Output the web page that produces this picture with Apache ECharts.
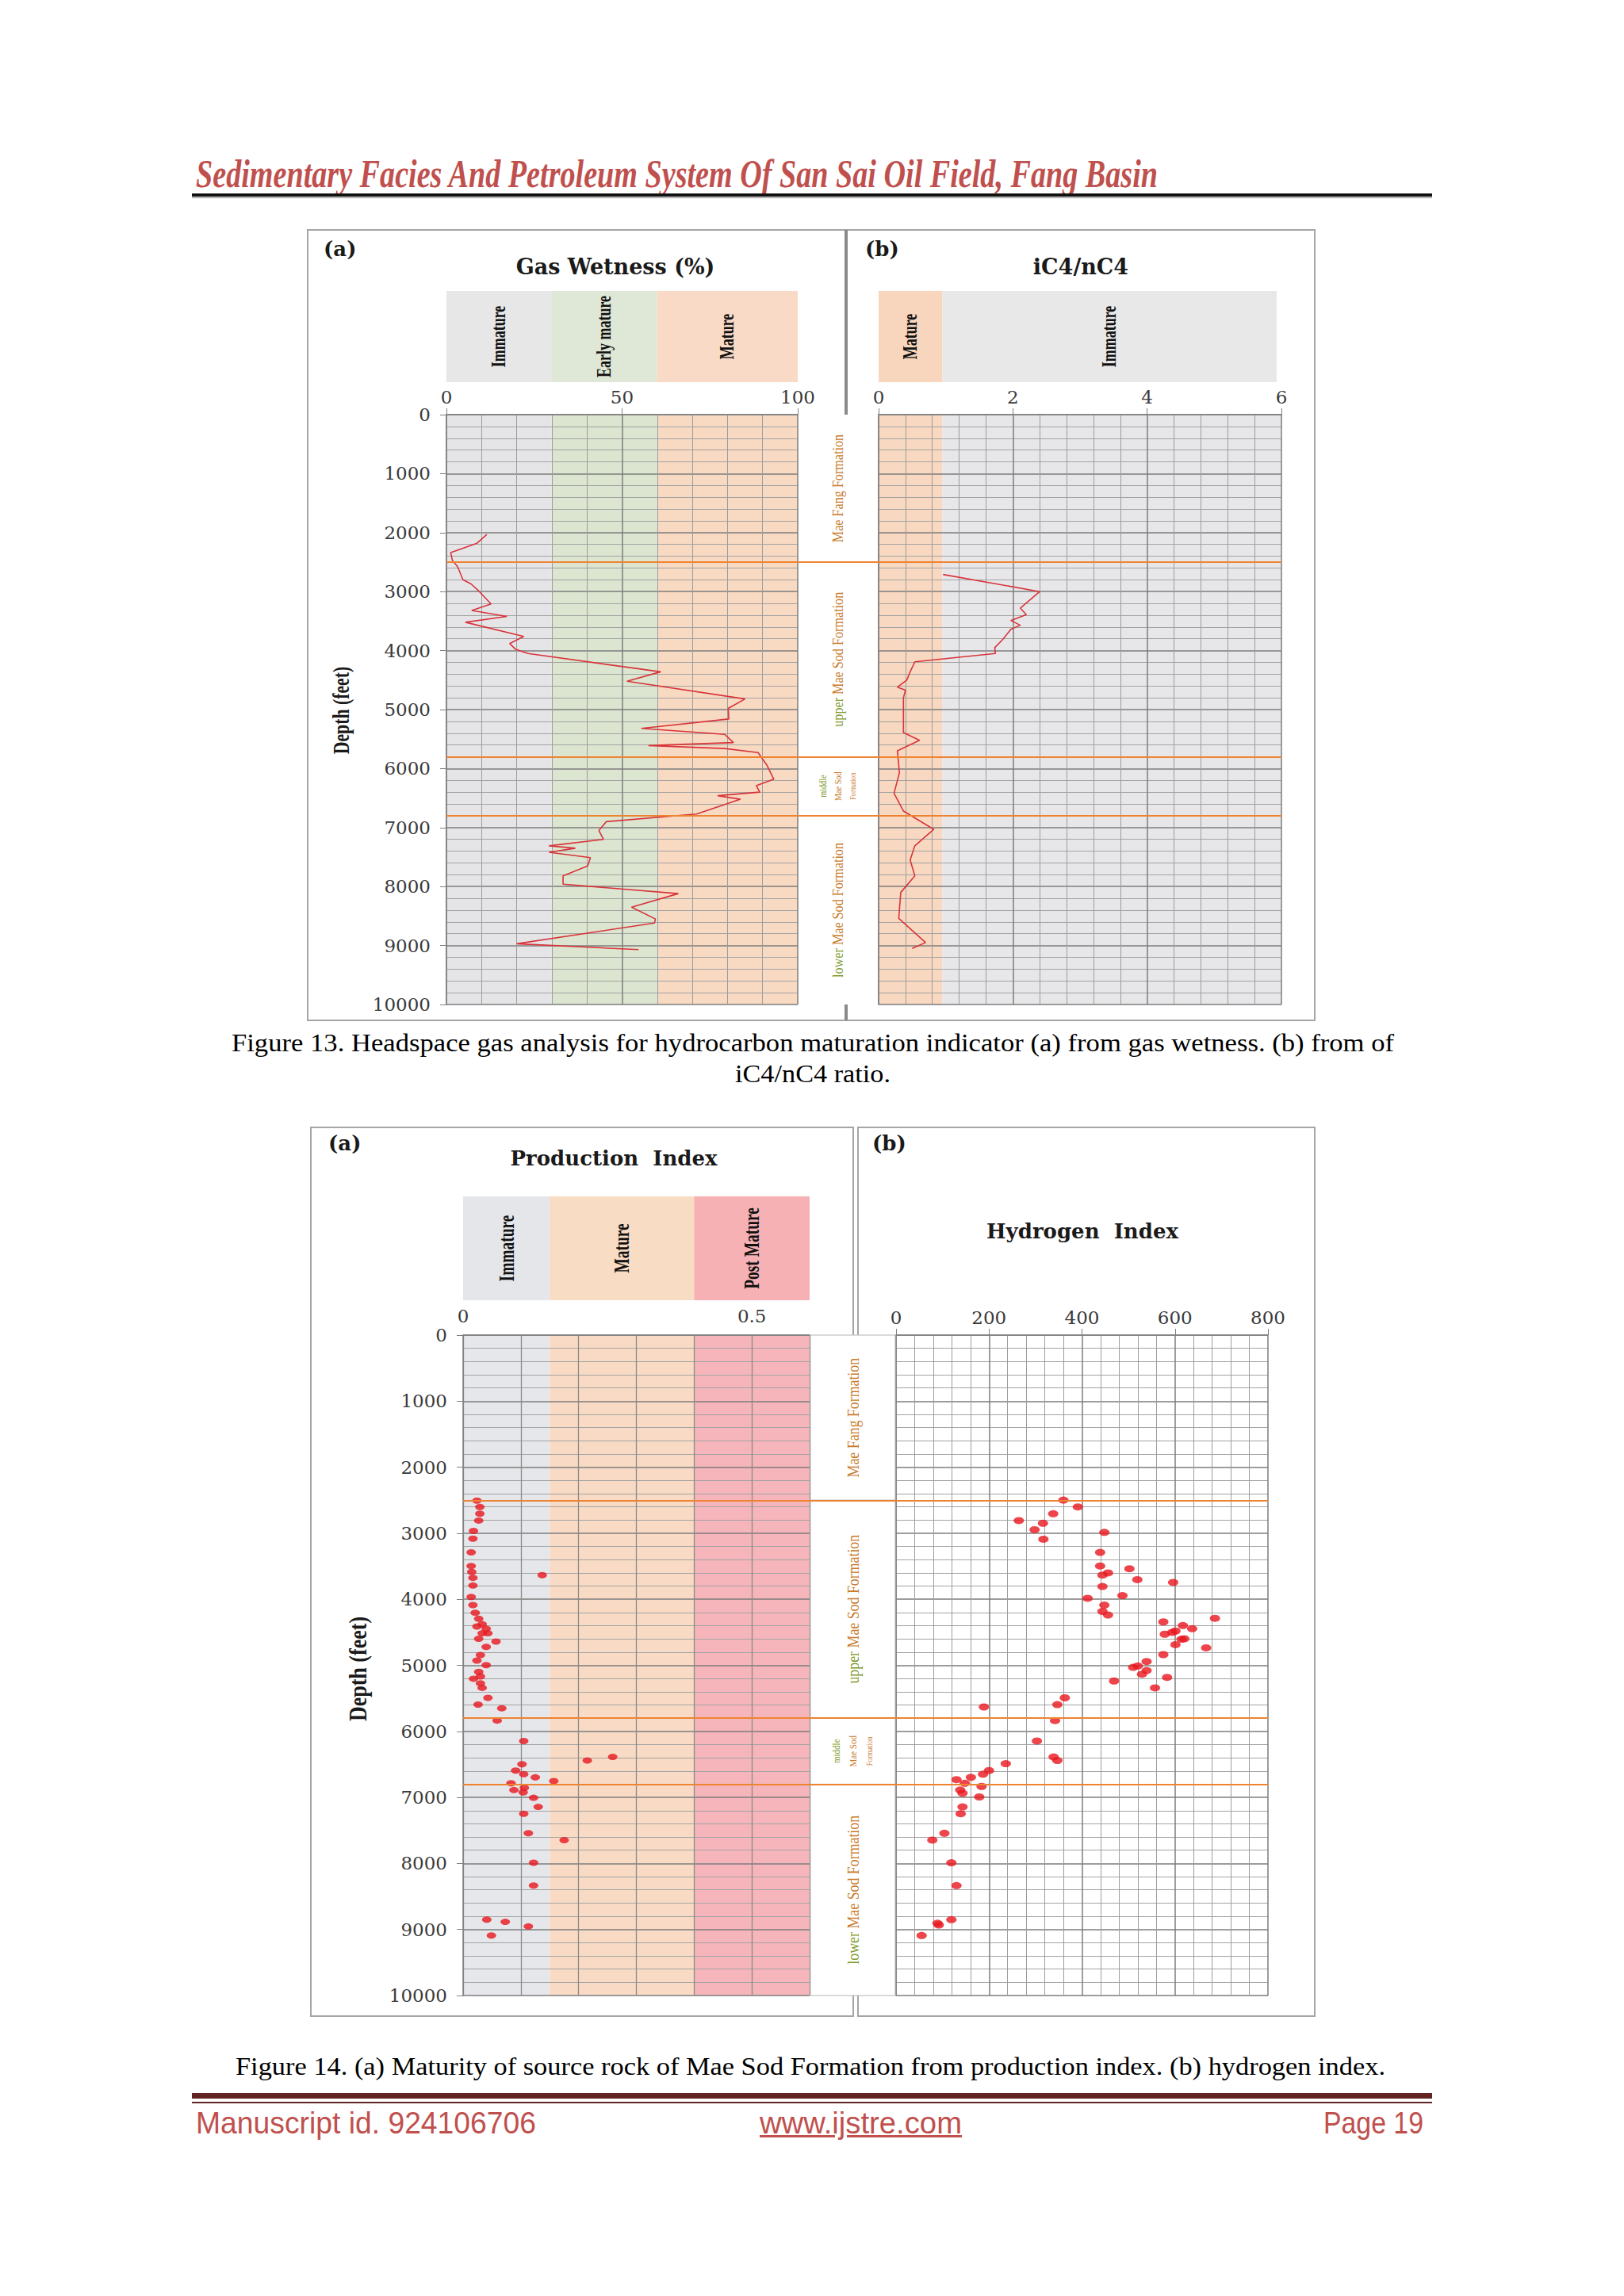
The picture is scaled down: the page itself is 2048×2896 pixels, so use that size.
<!DOCTYPE html>
<html><head><meta charset="utf-8">
<script src="https://cdn.jsdelivr.net/npm/echarts/dist/echarts.min.js"></script>
<style>
html,body{margin:0;padding:0;background:#fff;}
#page{position:relative;width:2048px;height:2896px;overflow:hidden;background:#fff;}
#chart{position:absolute;left:0;top:0;width:2048px;height:2896px;}
.t{position:absolute;white-space:nowrap;line-height:1;transform-origin:0 50%;}
.rule{position:absolute;}
</style></head><body>
<div id="page"><div id="chart"></div></div>
<script>
// ---------------- DATA ----------------
const formationNames = ['Mae Fang Formation','upper Mae Sod Formation','middle Mae Sod Formation','lower Mae Sod Formation'];
const formationTop  = [0, 2500, 5800, 6800];
const formationBase = [2500, 5800, 6800, 10000];
const boundaryDepths = [2500, 5800, 6800];

const gwZoneNames = ['Immature','Early mature','Mature'];
const gwZoneFrom = [0, 30, 60];
const gwZoneTo   = [30, 60, 100];
const icZoneNames = ['Mature','Immature'];
const icZoneFrom = [0, 0.95];
const icZoneTo   = [0.95, 6];
const icHeaderTo = [0.95, 5.93];
const piZoneNames = ['Immature','Mature','Post Mature'];
const piZoneFrom = [0, 0.15, 0.4];
const piZoneTo   = [0.15, 0.4, 0.6];

const gwDepth = [2030,2180,2340,2470,2580,2800,2870,2990,3210,3320,3420,3520,3760,3880,3980,4050,4360,4520,4820,4980,5160,5320,5420,5560,5610,5660,5730,5940,6180,6290,6400,6460,6520,6770,6900,7050,7200,7310,7350,7420,7510,7650,7820,7960,8120,8350,8550,8620,8970,9070];
const gwValue = [11.5,8.7,1.2,1.7,3.2,4.7,7.0,9.2,12.7,7.2,17.2,5.4,22.0,18.0,19.7,23.2,61.0,51.4,85.0,80.2,80.4,55.5,79.2,81.7,57.5,79.2,88.7,91.2,93.2,88.2,89.2,77.2,83.7,71.2,45.5,43.4,44.7,29.2,36.7,29.2,41.0,40.2,33.2,33.2,66.0,52.7,59.5,59.2,20.0,54.7];

const icDepth = [2710,3000,3280,3390,3490,3570,3640,3810,3950,4050,4190,4360,4500,4620,4670,4800,5390,5520,5700,6070,6420,6720,7030,7310,7550,7820,8100,8540,8950,9050];
const icValue = [0.96,2.40,2.11,2.20,1.97,2.11,1.97,1.85,1.73,1.74,0.54,0.47,0.42,0.28,0.40,0.37,0.37,0.61,0.28,0.31,0.23,0.37,0.82,0.54,0.47,0.54,0.33,0.30,0.70,0.50];

const piDepth = [2505,2601,2705,2808,2966,3083,3290,3634,3496,3586,3675,3792,3964,4088,4205,4294,4377,4411,4446,4515,4515,4597,4639,4721,4845,4928,4997,5100,5169,5203,5272,5341,5492,5595,5650,5836,6146,6387,6442,6497,6593,6648,6697,6752,6786,6855,6889,6924,7006,7144,7247,7543,7646,7990,8335,8851,8885,8954,9091];
const piValue = [0.024,0.029,0.029,0.027,0.018,0.017,0.014,0.137,0.014,0.015,0.017,0.017,0.014,0.017,0.021,0.027,0.033,0.024,0.040,0.033,0.043,0.027,0.057,0.040,0.030,0.024,0.040,0.027,0.030,0.018,0.030,0.033,0.043,0.026,0.067,0.059,0.105,0.259,0.215,0.102,0.091,0.105,0.125,0.157,0.083,0.106,0.088,0.104,0.122,0.130,0.105,0.113,0.175,0.122,0.122,0.041,0.073,0.113,0.049];

const hiDepth = [2498,2601,2705,2808,2849,2946,3090,2987,3290,3496,3600,3634,3537,3703,3806,3744,3985,3944,4088,4184,4239,4288,4343,4398,4446,4529,4501,4481,4605,4598,4687,4735,4838,4942,5031,5010,5079,5134,5182,5237,5341,5492,5595,5630,5836,6146,6387,6442,6490,6593,6648,6697,6731,6786,6834,6889,6937,6993,7144,7247,7543,7646,7990,8335,8851,8906,8933,9091];
const hiValue = [360,391,338,264,316,298,317,448,439,439,456,444,502,519,444,596,412,487,448,444,456,686,575,617,637,578,594,601,614,620,601,667,575,539,510,520,539,529,583,469,557,363,347,189,342,303,339,347,236,200,187,161,130,148,184,138,143,179,143,139,104,78,119,130,119,89,92,55];

// ---------------- STYLE ----------------
const gwPlotColors = ['#e5e5e8','#dce5d0','#f8d9c2'];
const gwHeadColors = ['#e7e7e7','#dfe8d6','#f9dac6'];
const icPlotColors = ['#f8d8c0','#e7e7ea'];
const icHeadColors = ['#f7d6bd','#e8e8e8'];
const piPlotColors = ['#e6e7ea','#f9dbc5','#f6b5ba'];
const piHeadColors = ['#e4e6e9','#f8dcc3','#f6b1b5'];
const ORANGE = '#ee8432', FORM = '#c87b2c', GREEN = '#7f9a2e';
const SERIF = '"Liberation Serif", "Times New Roman", serif';
const WIDE = '"DejaVu Serif", serif';

function zip(a, b) { return a.map((v, i) => [v, b[i]]); }

function bandRender(colors) {
  return function (params, api) {
    const a = api.coord([api.value(0), 0]);
    const b = api.coord([api.value(1), 10000]);
    return { type: 'rect', shape: { x: a[0], y: a[1], width: b[0] - a[0], height: b[1] - a[1] },
      style: { fill: colors[params.dataIndex] } };
  };
}
function headRender(colors, names, fs) {
  return function (params, api) {
    const a = api.coord([api.value(0), 1]);
    const b = api.coord([api.value(1), 0]);
    return { type: 'group', children: [
      { type: 'rect', shape: { x: a[0], y: a[1], width: b[0] - a[0], height: b[1] - a[1] }, style: { fill: colors[params.dataIndex] } },
      { type: 'text', x: (a[0] + b[0]) / 2, y: (a[1] + b[1]) / 2, rotation: Math.PI / 2, scaleX: 0.72,
        style: { text: names[params.dataIndex], fill: '#111', font: 'bold ' + fs + 'px ' + SERIF,
          align: 'center', textAlign: 'center', verticalAlign: 'middle', textVerticalAlign: 'middle' } }
    ] };
  };
}
function formRender(fs, small, stroke) {
  return function (params, api) {
    const i = params.dataIndex;
    const a = api.coord([0, api.value(0)]);
    const b = api.coord([1, api.value(1)]);
    const words = formationNames[i].split(' ');
    let text, size = fs;
    if (i === 0) text = formationNames[i];
    else if (i === 2) { text = '{g|' + words[0] + '}\n{o|' + words[1] + ' ' + words[2] + '}\n{s|' + words[3] + '}'; size = small; }
    else text = '{g|' + words[0] + '}{o| ' + words.slice(1).join(' ') + '}';
    return { type: 'group', children: [
      { type: 'rect', shape: { x: a[0], y: a[1], width: b[0] - a[0], height: b[1] - a[1] },
        style: { fill: '#ffffff', stroke: stroke, lineWidth: stroke === 'none' ? 0 : 1 } },
      { type: 'text', x: (a[0] + b[0]) / 2, y: (a[1] + b[1]) / 2, rotation: Math.PI / 2, scaleX: 0.85,
        style: { text: text, fill: FORM, fontSize: size, fontFamily: SERIF,
          align: 'center', textAlign: 'center', verticalAlign: 'middle', textVerticalAlign: 'middle',
          lineHeight: size * 1.6,
          rich: { g: { fill: GREEN, fontSize: size, fontFamily: SERIF, lineHeight: size * 1.6 },
                  o: { fill: FORM, fontSize: size, fontFamily: SERIF, lineHeight: size * 1.6 },
                  s: { fill: FORM, fontSize: size * 0.8, fontFamily: SERIF, lineHeight: size * 1.6 } } } }
    ] };
  };
}

// ---------------- AXES ----------------
const plain = v => String(v);
function hidX(gi, min, max) { return { gridIndex: gi, type: 'value', min: min, max: max, show: false }; }
function hidY(gi, min, max, inv) { return { gridIndex: gi, type: 'value', min: min, max: max, inverse: !!inv, show: false }; }
function plotX(gi, min, max, interval, extra) {
  return Object.assign({
    gridIndex: gi, type: 'value', min: min, max: max, interval: interval, position: 'top', z: 1,
    axisLine: { show: true, onZero: false, lineStyle: { color: '#808080', width: 1.5 } },
    axisTick: { show: true, length: 8, lineStyle: { color: '#808080' } },
    axisLabel: { show: true, margin: 11, fontFamily: WIDE, fontSize: 23, color: '#3a3a3a', formatter: plain },
    splitLine: { show: true, lineStyle: { color: '#7d7d7d', width: 1.5 } },
    minorTick: { show: false, splitNumber: 5 },
    minorSplitLine: { show: true, lineStyle: { color: '#9c9c9c', width: 1 } }
  }, extra || {});
}
function plotY(gi, labels) {
  return {
    gridIndex: gi, type: 'value', inverse: true, min: 0, max: 10000, interval: 1000, z: 1,
    axisLine: { show: true, onZero: false, lineStyle: { color: '#808080', width: 1.5 } },
    axisTick: { show: labels, length: 8, lineStyle: { color: '#808080' } },
    axisLabel: { show: labels, margin: 20, fontFamily: WIDE, fontSize: 23, color: '#3a3a3a', formatter: plain },
    splitLine: { show: true, lineStyle: { color: '#7d7d7d', width: 1.5 } },
    minorTick: { show: false, splitNumber: 5 },
    minorSplitLine: { show: true, lineStyle: { color: '#a3a3a3', width: 1 } }
  };
}

const grid = [
  { left: 563, top: 367, width: 443, height: 115 },   // 0 GW header
  { left: 563, top: 523, width: 443, height: 744 },   // 1 GW plot
  { left: 1108, top: 367, width: 508, height: 115 },  // 2 iC4 header
  { left: 1108, top: 523, width: 508, height: 744 },  // 3 iC4 plot
  { left: 1007, top: 523, width: 100, height: 744 },  // 4 formation col 13
  { left: 563, top: 523, width: 1053, height: 744 },  // 5 boundaries 13
  { left: 584, top: 1509, width: 437, height: 131 },  // 6 PI header
  { left: 584, top: 1684, width: 437, height: 833 },  // 7 PI plot
  { left: 1130, top: 1684, width: 469, height: 833 }, // 8 HI plot
  { left: 1022, top: 1684, width: 107, height: 833 }, // 9 formation col 14
  { left: 584, top: 1684, width: 1015, height: 833 }  // 10 boundaries 14
];

const xAxis = [
  hidX(0, 0, 100),
  plotX(1, 0, 100, 50),
  hidX(2, 0, 6),
  plotX(3, 0, 6, 2),
  hidX(4, 0, 1),
  hidX(5, 0, 1),
  hidX(6, 0, 0.6),
  plotX(7, 0, 0.6, 0.1, {
    axisTick: { show: false },
    axisLabel: { show: true, margin: 13, fontFamily: WIDE, fontSize: 23, color: '#3a3a3a',
      formatter: v => (Math.abs(v) < 1e-9 ? '0' : (Math.abs(v - 0.5) < 1e-9 ? '0.5' : '')) },
    splitLine: { show: true, lineStyle: { color: '#8a8a8a', width: 1.3 } },
    minorSplitLine: { show: false }
  }),
  plotX(8, 0, 800, 200),
  hidX(9, 0, 1),
  hidX(10, 0, 1)
];
const yAxis = [
  hidY(0, 0, 1), plotY(1, true), hidY(2, 0, 1), plotY(3, false),
  hidY(4, 0, 10000, true), hidY(5, 0, 10000, true),
  hidY(6, 0, 1), plotY(7, true), plotY(8, false),
  hidY(9, 0, 10000, true), hidY(10, 0, 10000, true)
];

function bandSeries(gi, from, to, colors) {
  return { type: 'custom', xAxisIndex: gi, yAxisIndex: gi, z: 0, silent: true, clip: false,
    renderItem: bandRender(colors), encode: { x: [0, 1] }, data: zip(from, to) };
}
function headSeries(gi, from, to, colors, names, fs) {
  return { type: 'custom', xAxisIndex: gi, yAxisIndex: gi, z: 2, silent: true, clip: false,
    renderItem: headRender(colors, names, fs), encode: { x: [0, 1] }, data: zip(from, to) };
}
function formSeries(gi, fs, small, stroke) {
  return { type: 'custom', xAxisIndex: gi, yAxisIndex: gi, z: 4, silent: true, clip: false,
    renderItem: formRender(fs, small, stroke), encode: { y: [0, 1] }, data: zip(formationTop, formationBase) };
}
function boundarySeries(gi) {
  return { type: 'line', xAxisIndex: gi, yAxisIndex: gi, data: [], z: 10, silent: true,
    markLine: { symbol: ['none', 'none'], silent: true, animation: false, label: { show: false },
      lineStyle: { color: ORANGE, width: 2, type: 'solid' },
      data: boundaryDepths.map(d => ({ yAxis: d })) } };
}

const series = [
  bandSeries(1, gwZoneFrom, gwZoneTo, gwPlotColors),
  headSeries(0, gwZoneFrom, gwZoneTo, gwHeadColors, gwZoneNames, 25),
  { type: 'line', xAxisIndex: 1, yAxisIndex: 1, z: 3, symbol: 'none', data: zip(gwValue, gwDepth),
    lineStyle: { color: '#d8343a', width: 1.6 } },
  bandSeries(3, icZoneFrom, icZoneTo, icPlotColors),
  headSeries(2, icZoneFrom, icHeaderTo, icHeadColors, icZoneNames, 25),
  { type: 'line', xAxisIndex: 3, yAxisIndex: 3, z: 3, symbol: 'none', data: zip(icValue, icDepth),
    lineStyle: { color: '#d8343a', width: 1.6 } },
  formSeries(4, 19, 12, 'none'),
  boundarySeries(5),
  bandSeries(7, piZoneFrom, piZoneTo, piPlotColors),
  headSeries(6, piZoneFrom, piZoneTo, piHeadColors, piZoneNames, 27),
  { type: 'scatter', xAxisIndex: 7, yAxisIndex: 7, z: 3, symbol: 'circle', symbolSize: [12, 8],
    itemStyle: { color: '#e8161e' }, data: zip(piValue, piDepth) },
  { type: 'scatter', xAxisIndex: 8, yAxisIndex: 8, z: 3, symbol: 'circle', symbolSize: [13, 9],
    itemStyle: { color: '#e8161e' }, data: zip(hiValue, hiDepth) },
  formSeries(9, 21, 13, '#b5b5b5'),
  boundarySeries(10)
];

function gtext(x, y, text, font, align, extra) {
  return Object.assign({ type: 'text', x: x, y: y, z: 1,
    style: { text: text, font: font, fill: '#1a1a1a', align: align, textAlign: align,
      verticalAlign: 'middle', textVerticalAlign: 'middle' } }, extra || {});
}
const graphic = [
  { type: 'rect', z: 0, shape: { x: 388, y: 290, width: 1270, height: 997 }, style: { fill: 'none', stroke: '#a5a5a5', lineWidth: 2 } },
  { type: 'line', z: 0, shape: { x1: 1067, y1: 290, x2: 1067, y2: 1287 }, style: { stroke: '#8a8a8a', lineWidth: 4 } },
  { type: 'rect', z: 0, shape: { x: 392, y: 1422, width: 684, height: 1121 }, style: { fill: 'none', stroke: '#a5a5a5', lineWidth: 2 } },
  { type: 'rect', z: 0, shape: { x: 1082, y: 1422, width: 576, height: 1121 }, style: { fill: 'none', stroke: '#a5a5a5', lineWidth: 2 } },
  gtext(408, 314, '(a)', 'bold 26px ' + WIDE, 'left'),
  gtext(776, 336, 'Gas Wetness (%)', 'bold 27px ' + WIDE, 'center'),
  gtext(1091, 314, '(b)', 'bold 26px ' + WIDE, 'left'),
  gtext(1363, 336, 'iC4/nC4', 'bold 27px ' + WIDE, 'center'),
  gtext(430, 896, 'Depth (feet)', 'bold 29px ' + SERIF, 'center', { rotation: Math.PI / 2, scaleX: 0.75 }),
  gtext(414, 1442, '(a)', 'bold 26px ' + WIDE, 'left'),
  gtext(774, 1461, 'Production  Index', 'bold 26px ' + WIDE, 'center'),
  gtext(1100, 1442, '(b)', 'bold 26px ' + WIDE, 'left'),
  gtext(1365, 1553, 'Hydrogen  Index', 'bold 26px ' + WIDE, 'center'),
  gtext(451, 2105, 'Depth (feet)', 'bold 31px ' + SERIF, 'center', { rotation: Math.PI / 2, scaleX: 0.84 })
];

const chart = echarts.init(document.getElementById('chart'), null, { renderer: 'svg', width: 2048, height: 2896 });
chart.setOption({ animation: false, backgroundColor: '#ffffff', grid: grid, xAxis: xAxis, yAxis: yAxis, series: series, graphic: { elements: graphic } });

// ---------------- PAGE TEXT ----------------
const page = document.getElementById('page');
function place(text, o) {
  const d = document.createElement('div');
  d.className = 't'; d.textContent = text;
  d.style.font = o.font; d.style.color = o.color || '#000';
  if (o.underline) d.style.textDecoration = 'underline';
  page.appendChild(d);
  const r = d.getBoundingClientRect();
  const s = o.width / r.width;
  const left = o.left !== undefined ? o.left : (o.right !== undefined ? o.right - o.width : o.cx - o.width / 2);
  d.style.left = left + 'px';
  d.style.top = (o.cy - r.height / 2) + 'px';
  d.style.transform = 'scaleX(' + s + ')';
}
function rule(x, y, w, h, c) {
  const d = document.createElement('div'); d.className = 'rule';
  d.style.left = x + 'px'; d.style.top = y + 'px'; d.style.width = w + 'px'; d.style.height = h + 'px'; d.style.background = c;
  page.appendChild(d);
}
const RED = '#c0504d';
place('Sedimentary Facies And Petroleum System Of San Sai Oil Field, Fang Basin',
  { left: 247, cy: 219, width: 1213, font: 'italic bold 50px "Liberation Serif"', color: RED });
rule(242, 244, 1564, 4, '#111');
rule(242, 249, 1564, 1, '#888');
place('Figure 13. Headspace gas analysis for hydrocarbon maturation indicator (a) from gas wetness.  (b) from of',
  { cx: 1025, cy: 1315, width: 1466, font: '32px "Liberation Serif"', color: '#000' });
place('iC4/nC4 ratio.', { cx: 1025, cy: 1354, width: 196, font: '32px "Liberation Serif"', color: '#000' });
place('Figure 14. (a) Maturity of source rock of Mae Sod Formation from production index. (b) hydrogen index.',
  { cx: 1022, cy: 2606, width: 1450, font: '32px "Liberation Serif"', color: '#000' });
rule(242, 2640, 1564, 7, '#622423');
rule(242, 2651, 1564, 2, '#622423');
place('Manuscript id. 924106706', { left: 247, cy: 2678, width: 429, font: '39px "Liberation Sans"', color: RED });
place('www.ijstre.com', { left: 958, cy: 2678, width: 255, font: '39px "Liberation Sans"', color: RED, underline: true });
place('Page 19', { right: 1795, cy: 2678, width: 126, font: '39px "Liberation Sans"', color: RED });
</script>
</body></html>
